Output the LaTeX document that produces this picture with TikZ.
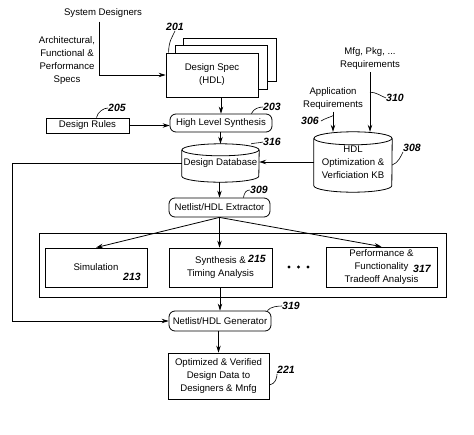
\documentclass[tikz,border=0pt]{standalone}
\usepackage{fontspec}
\setmainfont{Liberation Sans}
\usetikzlibrary{arrows.meta}
\begin{document}
\begin{tikzpicture}[x=1pt,y=1pt,
 font=\fontsize{9.6}{13}\selectfont,
 box/.style={draw, line width=0.8pt, inner sep=0pt, align=center},
 rbox/.style={box, rounded corners=6pt},
 plain/.style={inner sep=0pt, align=center},
 num/.style={inner sep=0pt, font=\fontsize{10.5}{12}\selectfont\bfseries\itshape},
 arr/.style={line width=0.8pt, -{Stealth[length=7pt,width=4.5pt]}},
 lead/.style={line width=0.6pt},
 ln/.style={line width=0.8pt}]
\useasboundingbox (0,0) rectangle (474,-434);

% top inputs
\node[plain] (sysdes) at (103,-13) {System Designers};
\node[plain] (specs) at (67,-60.5) {Architectural,\\Functional \&\\Performance\\Specs};

% design spec stack
\node[box, fill=white, minimum width=93, minimum height=43] (spec3) at (229.5,-59.5) {};
\node[box, fill=white, minimum width=92, minimum height=44] (spec2) at (221,-67) {};
\node[box, fill=white, minimum width=92, minimum height=44] (spec) at (212,-75) {Design Spec\\(HDL)};
\node[num] (l201) at (175,-27) {201};
\draw[lead] ([xshift=3pt]spec.north west) .. controls +(0,12) and +(-2,-5) .. (l201.south);
\draw[arr] ([xshift=-4pt,yshift=-4pt]sysdes.south) |- (spec.west);

% high level synthesis
\node[rbox, minimum width=102, minimum height=18] (hls) at (221,-123) {High Level Synthesis};
\draw[arr] (spec.south -| hls.north) -- (hls.north);
\node[num] (l203) at (272,-107) {203};
\draw[lead] ([xshift=-21pt]hls.north east) .. controls +(2,5) and +(-4,0) .. (l203.west);

% design rules
\node[box, minimum width=83, minimum height=15] (rules) at (87.5,-125.5) {Design Rules};
\draw[arr] (rules.east) -- (rules.east -| hls.west);
\node[num] (l205) at (117,-108) {205};
\draw[lead] ([xshift=9pt]rules.north) .. controls +(1,6) and +(-4,0) .. (l205.west);

% design database
\node[plain, minimum width=77, minimum height=38] (db) at (220.5,-163) {Design Database};
\draw[ln] ([yshift=-6pt]db.north west) -- ([yshift=6pt]db.south west)
  arc[start angle=180, end angle=360, x radius=38.5pt, y radius=6pt]
  -- ([yshift=-6pt]db.north east);
\draw[ln] ([yshift=-6pt]db.north) ellipse [x radius=38.5pt, y radius=6pt];
\draw[arr] (hls.south -| db.north) -- (db.north);
\node[num] (l316) at (272,-142) {316};
\draw[lead] ([xshift=-8pt]db.north east) .. controls +(4,1) and +(-4,-1) .. (l316.west);

% HDL optimization KB
\node[plain, minimum width=78, minimum height=60] (kb) at (353,-162) {HDL\\Optimization \&\\Verficiation KB};
\draw[ln] ([yshift=-6.5pt]kb.north west) -- ([yshift=6.5pt]kb.south west)
  arc[start angle=180, end angle=360, x radius=39pt, y radius=6.5pt]
  -- ([yshift=-6.5pt]kb.north east);
\draw[ln] ([yshift=-6.5pt]kb.north) ellipse [x radius=39pt, y radius=6.5pt];
\draw[arr] (kb.west) -- (kb.west -| db.east);
\node[num] (l308) at (412,-148) {308};
\draw[lead] ([yshift=-3pt]kb.east) .. controls +(6,2) and +(-2,-4) .. (l308.south west);

\node[plain] (appreq) at (333,-98.5) {Application\\Requirements};
\draw[arr] ([yshift=-2pt]appreq.south) -- (appreq.south |- kb.north);
\node[num] (l306) at (310,-121) {306};
\draw[lead] ([xshift=2pt]l306.east) .. controls +(5,3) and +(-4,-2) .. ([yshift=-6pt]appreq.south);

\node[plain] (mfg) at (370,-59) {Mfg, Pkg, ...\\Requirements};
\draw[arr] ([yshift=-2pt]mfg.south) -- (mfg.south |- kb.north);
\node[num] (l310) at (395,-98) {310};
\draw[lead] ([yshift=-22pt]mfg.south) .. controls +(6,0) and +(-5,2) .. (l310.west);

% extractor
\node[rbox, minimum width=101, minimum height=19] (ext) at (219.5,-207.5) {Netlist/HDL Extractor};
\draw[arr] (db.south -| ext.north) -- (ext.north);
\node[num] (l309) at (259,-190) {309};
\draw[lead] ([xshift=-27pt]ext.north east) .. controls +(1,5) and +(-4,0) .. (l309.west);

% analysis group
\node[box, minimum width=407, minimum height=64] (outer) at (242.5,-265) {};
\node[box, minimum width=102, minimum height=39] (sim) at (96,-267.5) {Simulation};
\node[num] (l213) at (132,-277) {213};
\node[box, minimum width=103, minimum height=39] (syn) at (220.5,-267.5) {Synthesis \&\\Timing Analysis};
\node[num] (l215) at (257,-259) {215};
\fill (289,-267) circle (1.6pt) (298.5,-267) circle (1.6pt) (308,-267) circle (1.6pt);
\node[box, minimum width=111, minimum height=40] (perf) at (381.5,-267) {Performance \&\\Functionality\\Tradeoff Analysis};
\node[num] (l317) at (422,-269) {317};
\draw[arr] (ext.south) -- (sim.north);
\draw[arr] (ext.south) -- (ext.south |- syn.north);
\draw[arr] (ext.south) -- (perf.north);

% generator
\node[rbox, minimum width=102, minimum height=20] (gen) at (220,-321) {Netlist/HDL Generator};
\draw[arr] (syn.south -| gen.north) -- (gen.north);
\coordinate (fb) at (12,-162);
\draw[arr] (db.west) -- (db.west -| fb) |- (gen.west);
\node[num] (l319) at (291,-306) {319};
\draw[lead] ([xshift=-4pt]gen.north east) .. controls +(3,4) and +(-4,0) .. (l319.west);

% output
\node[box, minimum width=101, minimum height=46] (out) at (218.5,-376) {Optimized \& Verified\\Design Data to\\Designers \& Mnfg};
\draw[arr] (gen.south -| out.north) -- (out.north);
\node[num] (l221) at (286,-370) {221};
\draw[lead] ([yshift=-9pt]out.east) .. controls +(6,1) and +(0,-4) .. (l221.south west);
\end{tikzpicture}
\end{document}
